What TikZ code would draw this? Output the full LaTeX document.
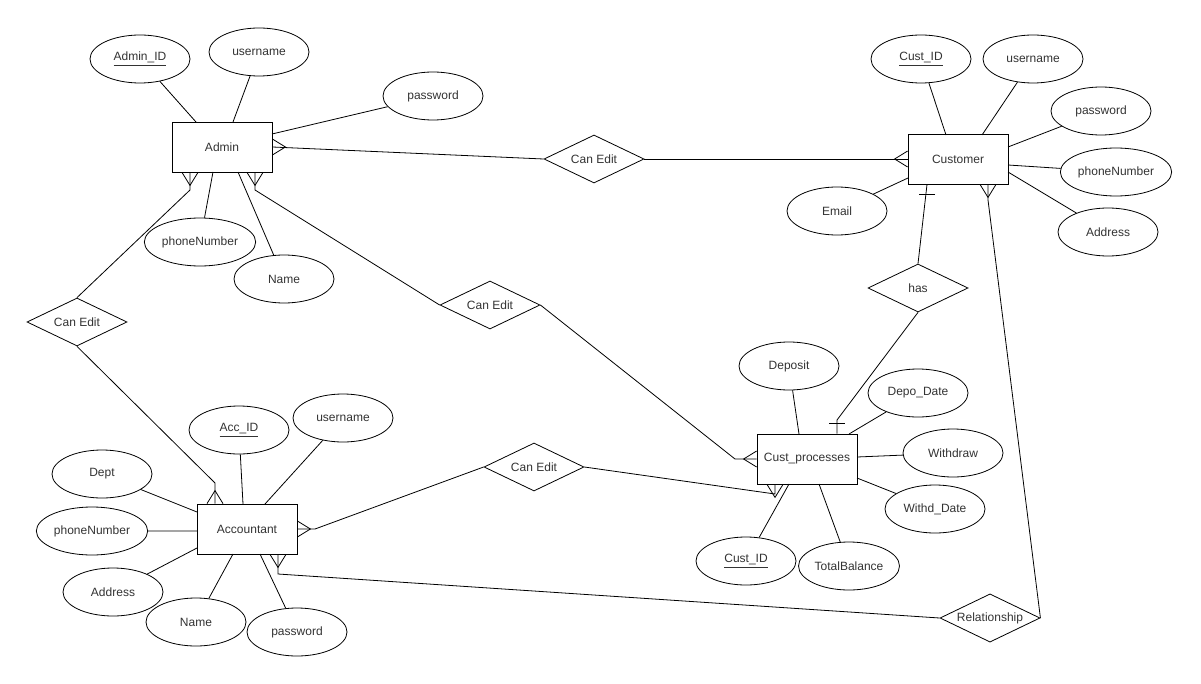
\documentclass[tikz,border=0pt]{standalone}
\usepackage{fontspec}
\setmainfont{Liberation Sans}
\usetikzlibrary{shapes.geometric}
\begin{document}
\begin{tikzpicture}[x=0.75pt,y=-0.75pt,
  every node/.style={font=\fontsize{9}{11}\selectfont,text=black!80,inner sep=1pt},
  ent/.style={draw,rectangle,minimum width=75pt,minimum height=37.5pt,fill=white},
  att/.style={draw,ellipse,minimum width=75pt,minimum height=36pt,fill=white},
  rel/.style={draw,diamond,aspect=2,minimum width=75pt,minimum height=36pt,fill=white},
  crow/.pic={\draw (0,-8)--(13,0)--(0,8);},
  bar/.pic={\draw (10,-8)--(10,8);},
  line width=0.6pt]
\useasboundingbox (0,0) rectangle (1201,684);
% entities
\node[ent] (admin) at (222,147) {Admin};
\node[ent] (cust) at (958,159) {Customer};
\node[ent] (cp) at (807,459) {Cust\_processes};
\node[ent] (acc) at (247,529) {Accountant};
% relationships
\node[rel] (r1) at (594,159) {Can Edit};
\node[rel] (has) at (918,288) {has};
\node[rel] (r2) at (490,305) {Can Edit};
\node[rel] (r3) at (77,322) {Can Edit};
\node[rel] (r4) at (534,467) {Can Edit};
\node[rel] (rr) at (990,618) {Relationship};
% attributes
\node[att] (a1) at (140,59) {\underline{Admin\_ID}};
\node[att] (a2) at (259,52) {username};
\node[att] (a3) at (433,96) {password};
\node[att] (a4) at (200,242) {phoneNumber};
\node[att] (a5) at (284,279) {Name};
\node[att] (c1) at (921,59) {\underline{Cust\_ID}};
\node[att] (c2) at (1033,59) {username};
\node[att] (c3) at (1101,111) {password};
\node[att] (c4) at (1116,172) {phoneNumber};
\node[att] (c5) at (1108,232) {Address};
\node[att] (c6) at (837,211) {Email};
\node[att] (p1) at (789,366) {Deposit};
\node[att] (p2) at (918,393) {Depo\_Date};
\node[att] (p3) at (953,453) {Withdraw};
\node[att] (p4) at (935,509) {Withd\_Date};
\node[att] (p5) at (849,566) {TotalBalance};
\node[att] (p6) at (746,561) {\underline{Cust\_ID}};
\node[att] (d1) at (239,430) {\underline{Acc\_ID}};
\node[att] (d2) at (343,418) {username};
\node[att] (d3) at (102,474) {Dept};
\node[att] (d4) at (92,531) {phoneNumber};
\node[att] (d5) at (113,592) {Address};
\node[att] (d6) at (196,622) {Name};
\node[att] (d7) at (297,632) {password};
% attribute lines
\draw (a1) -- (196,122) (a2) -- (233,122) (a3) -- (272,134) (a4) -- (213,172) (a5) -- (238,172);
\draw (c1) -- (946,135) (c2) -- (982,135) (c3) -- (1008,147) (c4) -- (1008,165) (c5) -- (1008,172) (c6) -- (908,178);
\draw (p1) -- (799,434) (p2) -- (849,434) (p3) -- (857,457) (p4) -- (857,478) (p5) -- (819,484) (p6) -- (789,484);
\draw (d1) -- (243,504) (d2) -- (265,504) (d3) -- (197,512) (d4) -- (197,531) (d5) -- (197,548) (d6) -- (233,554) (d7) -- (260,554);
% connectors
\coordinate (k1) at (190,190); \coordinate (k2) at (255,190);
\coordinate (k3) at (215,483); \coordinate (k4) at (735,459);
\coordinate (k5) at (315,529); \coordinate (k6) at (775,494);
\coordinate (k7) at (837,420); \coordinate (k8) at (988,200);
\coordinate (k9) at (278,574);
\draw (admin.east) -- (r1.west);
\draw (r1.east) -- (cust.west);
\draw (admin.south west -| k1) -- (k1) -- (r3.north);
\draw (r3.south) -- (k3) -- (acc.north west -| k3);
\draw (admin.south west -| k2) -- (k2) -- (r2.west);
\draw (r2.east) -- (k4) -- (cp.west);
\draw (acc.east) -- (k5) -- (r4.west);
\draw (r4.east) -- (k6) -- (cp.south west -| k6);
\draw (cust.south west -| 927,0) -- (has.north);
\draw (has.south) -- (k7) -- (cp.north west -| k7);
\draw (cust.south west -| k8) -- (k8) -- (rr.east);
\draw (acc.south west -| k9) -- (k9) -- (rr.west);
% crow's feet and bars
\pic at (admin.east) {crow};
\pic[rotate=180] at (cust.west) {crow};
\pic[rotate=-90] at (admin.south west -| k1) {crow};
\pic[rotate=-90] at (admin.south west -| k2) {crow};
\pic[rotate=90] at (acc.north west -| k3) {crow};
\pic[rotate=180] at (cp.west) {crow};
\pic at (acc.east) {crow};
\pic[rotate=-90] at (cp.south west -| k6) {crow};
\pic[rotate=-90] at (cust.south west -| k8) {crow};
\pic[rotate=-90] at (acc.south west -| k9) {crow};
\pic[rotate=-90] at (cust.south west -| 927,0) {bar};
\pic[rotate=90] at (cp.north west -| k7) {bar};
\end{tikzpicture}
\end{document}
